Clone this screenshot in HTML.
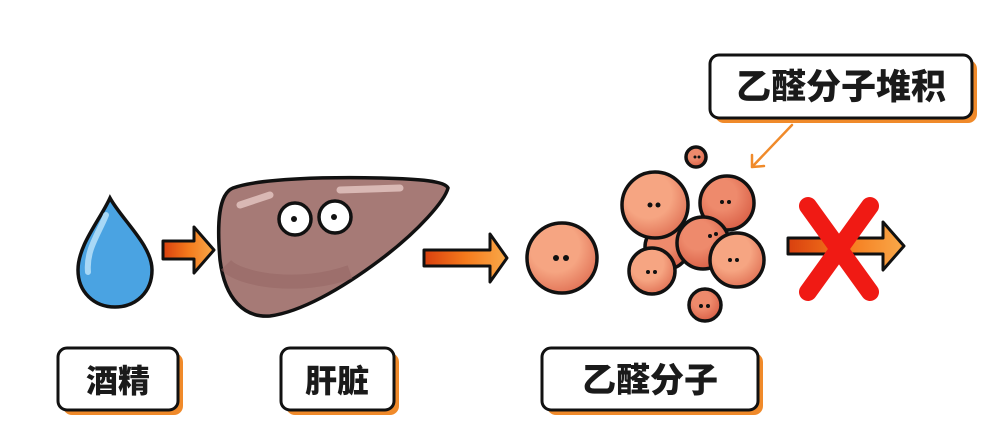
<!DOCTYPE html>
<html><head><meta charset="utf-8"><style>
body{margin:0;width:1000px;height:445px;background:#fff;overflow:hidden}
svg{display:block}
text{font-family:"Noto Sans CJK SC","WenQuanYi Zen Hei",sans-serif;font-weight:900;fill:#1a1a1a}
</style></head><body>
<svg width="1000" height="445" viewBox="0 0 1000 445">
<defs>
<linearGradient id="ag" x1="0" x2="1"><stop offset="0" stop-color="#d9400f"/><stop offset="0.5" stop-color="#f57a1c"/><stop offset="1" stop-color="#f9a94a"/></linearGradient>
<radialGradient id="bg" cx="0.4" cy="0.35" r="0.7"><stop offset="0.5" stop-color="#f6a582"/><stop offset="1" stop-color="#e07054"/></radialGradient>
<radialGradient id="bg2" cx="0.4" cy="0.35" r="0.7"><stop offset="0.4" stop-color="#ee8a6c"/><stop offset="1" stop-color="#d85d44"/></radialGradient>
</defs>
<path d="M110 198 C100 220 78 245 78 270 C78 292 94 307 115 307 C136 307 152 292 152 270 C152 245 122 220 110 198 Z" fill="#4aa3e2" stroke="#111" stroke-width="3.5"/>
<path d="M106 215 C98 235 86 250 88 272" stroke="#a8d8f6" stroke-width="6" fill="none" stroke-linecap="round"/>
<path d="M163 241 H194 V227 L214 250 L194 273 V259 H163 Z" fill="url(#ag)" stroke="#111" stroke-width="3" stroke-linejoin="round"/>
<path d="M233 188 C260 178 330 177 380 178 C420 179 445 181 448 188 C445 200 420 230 380 260 C340 290 300 312 270 316 C245 318 225 300 220 260 C217 225 218 194 233 188 Z" fill="#a67a76" stroke="#111" stroke-width="3.5"/>
<path d="M226 265 C240 280 300 290 350 272" stroke="#946461" stroke-width="14" fill="none" opacity="0.5"/>
<path d="M240 205 L270 195" stroke="#d9b8b4" stroke-width="7" stroke-linecap="round"/>
<path d="M340 190 L400 188" stroke="#d9b8b4" stroke-width="7" stroke-linecap="round"/>
<circle cx="295" cy="219" r="16" fill="#fff" stroke="#111" stroke-width="3.5"/>
<circle cx="335" cy="217" r="16" fill="#fff" stroke="#111" stroke-width="3.5"/>
<circle cx="294" cy="219" r="3" fill="#111"/><circle cx="334" cy="217" r="3" fill="#111"/>
<path d="M424 250 H490 V234 L507 258 L490 282 V266 H424 Z" fill="url(#ag)" stroke="#111" stroke-width="3" stroke-linejoin="round"/>
<g stroke="#111" stroke-width="3.5">
<circle cx="562" cy="258" r="35" fill="url(#bg)"/>
<circle cx="667" cy="247" r="22" fill="url(#bg2)"/>
<circle cx="727" cy="203" r="27" fill="url(#bg2)"/>
<circle cx="655" cy="205" r="33" fill="url(#bg)"/>
<circle cx="703" cy="243" r="26" fill="url(#bg2)"/>
<circle cx="652" cy="271" r="23" fill="url(#bg)"/>
<circle cx="737" cy="260" r="27" fill="url(#bg)"/>
<circle cx="696" cy="157" r="10" fill="url(#bg2)"/>
<circle cx="705" cy="305" r="16" fill="url(#bg2)"/>
</g>
<g fill="#111">
<circle cx="556" cy="258" r="3"/><circle cx="566" cy="258" r="3"/>
<circle cx="650" cy="205" r="2.5"/><circle cx="658" cy="205" r="2.5"/>
<circle cx="722" cy="202" r="2"/><circle cx="729" cy="202" r="2"/>
<circle cx="710" cy="236" r="2"/><circle cx="716" cy="234" r="2"/>
<circle cx="648" cy="272" r="2"/><circle cx="655" cy="272" r="2"/>
<circle cx="730" cy="260" r="2"/><circle cx="737" cy="260" r="2"/>
<circle cx="701" cy="306" r="2"/><circle cx="708" cy="306" r="2"/>
<circle cx="695" cy="157" r="1.5"/><circle cx="699" cy="157" r="1.5"/>
</g>
<path d="M792 125 L752 167 M752 167 L752 155 M752 167 L764 166" stroke="#f08a2a" stroke-width="2.5" fill="none" stroke-linecap="round"/>
<path d="M788 238 H883 V222 L904 246 L883 270 V254 H788 Z" fill="url(#ag)" stroke="#111" stroke-width="3" stroke-linejoin="round"/>
<path d="M808 206 L870 292 M870 206 L808 292" stroke="#f01a14" stroke-width="18" stroke-linecap="round"/>
<g>
<rect x="63" y="353" width="120" height="62" rx="9" fill="#f08a2a"/>
<rect x="58" y="348" width="120" height="62" rx="9" fill="#fff" stroke="#111" stroke-width="3"/>
<text x="118" y="392" font-size="32" text-anchor="middle">酒精</text>
<rect x="286" y="353" width="113" height="62" rx="9" fill="#f08a2a"/>
<rect x="281" y="348" width="113" height="62" rx="9" fill="#fff" stroke="#111" stroke-width="3"/>
<text x="337" y="392" font-size="32" text-anchor="middle">肝脏</text>
<rect x="547" y="353" width="216" height="62" rx="9" fill="#f08a2a"/>
<rect x="542" y="348" width="216" height="62" rx="9" fill="#fff" stroke="#111" stroke-width="3"/>
<text x="650" y="392" font-size="34" text-anchor="middle">乙醛分子</text>
<rect x="715" y="60" width="262" height="63" rx="9" fill="#f08a2a"/>
<rect x="710" y="55" width="262" height="63" rx="9" fill="#fff" stroke="#111" stroke-width="3"/>
<text x="841" y="99" font-size="35" text-anchor="middle">乙醛分子堆积</text>
</g>
</svg>
</body></html>
